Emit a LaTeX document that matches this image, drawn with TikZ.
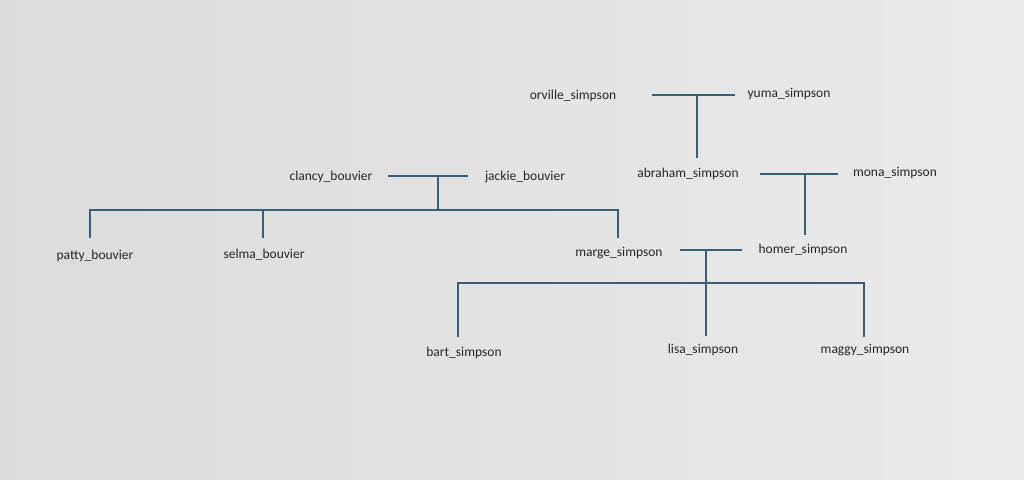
\documentclass[tikz,border=0pt]{standalone}
\usepackage{fontspec}
\setmainfont{Carlito}
\definecolor{lncol}{HTML}{3B5E78}
\begin{document}
\begin{tikzpicture}[x=1pt,y=-1pt,
  lbl/.style={font=\fontsize{13.5}{15}\selectfont, text=black!85, inner sep=1pt},
  ln/.style={draw=lncol, line width=1.8pt}]
\fill[left color=black!14, right color=black!8] (0,0) rectangle (1024,479);
\useasboundingbox (0,0) rectangle (1024,479);
\node[lbl] (orville) at (573,96) {orville\_simpson};
\node[lbl] (yuma) at (789,94) {yuma\_simpson};
\node[lbl] (abraham) at (688,174) {abraham\_simpson};
\node[lbl] (mona) at (895,173) {mona\_simpson};
\node[lbl] (clancy) at (331,177) {clancy\_bouvier};
\node[lbl] (jackie) at (525,177) {jackie\_bouvier};
\node[lbl] (patty) at (95,256) {patty\_bouvier};
\node[lbl] (selma) at (264,255) {selma\_bouvier};
\node[lbl] (marge) at (619,253) {marge\_simpson};
\node[lbl] (homer) at (803,250) {homer\_simpson};
\node[lbl] (bart) at (464,353) {bart\_simpson};
\node[lbl] (lisa) at (703,350) {lisa\_simpson};
\node[lbl] (maggy) at (865,350) {maggy\_simpson};
% couple lines
\coordinate (c1a) at (652,95); \coordinate (c1b) at (735,95); \coordinate (c1m) at (697,95);
\draw[ln] (c1a) -- (c1b); \draw[ln] (c1m) -- (697,158);
\coordinate (c2a) at (760,174); \coordinate (c2b) at (838,174); \coordinate (c2m) at (805,174);
\draw[ln] (c2a) -- (c2b); \draw[ln] (c2m) -- (805,235);
\coordinate (c3a) at (388,176); \coordinate (c3b) at (468,176); \coordinate (c3m) at (438,176);
\draw[ln] (c3a) -- (c3b); \draw[ln] (c3m) -- (438,210);
\draw[ln] (90,238) -- (90,210) -- (618,210) -- (618,238);
\draw[ln] (263,210) -- (263,238);
\coordinate (c4a) at (680,250); \coordinate (c4b) at (742,250); \coordinate (c4m) at (706,250);
\draw[ln] (c4a) -- (c4b); \draw[ln] (c4m) -- (706,336);
\draw[ln] (458,337) -- (458,283) -- (864,283) -- (864,337);
\end{tikzpicture}
\end{document}
